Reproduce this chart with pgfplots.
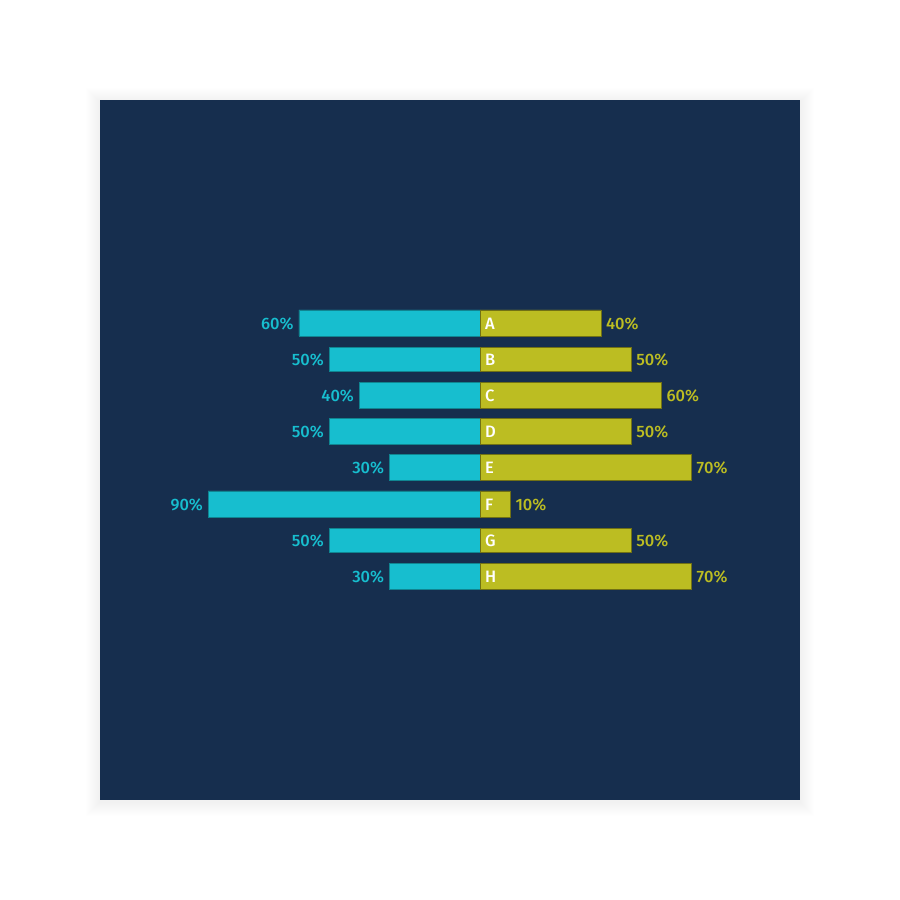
\documentclass[border=0pt]{standalone}
\usepackage{pgfplots}
\pgfplotsset{compat=1.18}
\usepackage{fontspec}
\setmainfont{Fira Sans}[UprightFont=* Medium, BoldFont=* SemiBold]
\definecolor{navy}{HTML}{162E4E}
\definecolor{cy}{HTML}{17BECF}
\definecolor{ol}{HTML}{BCBD22}
\begin{document}
\begin{tikzpicture}[x=1bp,y=1bp]
\path (0,0) rectangle (900,900);
\foreach \k in {1,...,14} \fill[black,opacity=0.0035] (100-\k,100-\k-2) rectangle (800+\k,800+\k-2);
\fill[navy] (100,100) rectangle (800,800);
\begin{axis}[at={(100bp,100bp)}, anchor=south west, scale only axis,
  width=700bp, height=700bp, hide axis,
  xmin=-125.83, xmax=105.96, ymin=-6.16, ymax=13.18, y dir=reverse, clip=false,
  every node near coord/.append style={font=\fontsize{16.5bp}{16.5bp}\selectfont, inner sep=0pt, yshift=-0.5bp}]
% left (cyan) bars, normal rows
\addplot[xbar, bar shift=0pt, bar width=26bp, fill=cy, draw=cy!70!black, line width=0.6bp,
  point meta=explicit symbolic, nodes near coords,
  nodes near coords style={anchor=east, xshift=-5bp, text=cy}]
  coordinates {(-60,0)[60\%] (-40,2)[40\%] (-50,3)[50\%] (-30,4)[30\%] (-90,5)[90\%] (-30,7)[30\%]};
% left (cyan) bars, thin rows
\addplot[xbar, bar shift=0pt, bar width=24bp, fill=cy, draw=cy!70!black, line width=0.6bp,
  point meta=explicit symbolic, nodes near coords,
  nodes near coords style={anchor=east, xshift=-5bp, text=cy}]
  coordinates {(-50,1)[50\%] (-50,6)[50\%]};
% right (olive) bars, normal rows
\addplot[xbar, bar shift=0pt, bar width=26bp, fill=ol, draw=ol!60!black, line width=0.6bp,
  point meta=explicit symbolic, nodes near coords,
  nodes near coords style={anchor=west, xshift=5bp, text=ol}]
  coordinates {(40,0)[40\%] (60,2)[60\%] (50,3)[50\%] (70,4)[70\%] (10,5)[10\%] (70,7)[70\%]};
% right (olive) bars, thin rows
\addplot[xbar, bar shift=0pt, bar width=24bp, fill=ol, draw=ol!60!black, line width=0.6bp,
  point meta=explicit symbolic, nodes near coords,
  nodes near coords style={anchor=west, xshift=5bp, text=ol}]
  coordinates {(50,1)[50\%] (50,6)[50\%]};
% category letters
\addplot[only marks, mark=none, point meta=explicit symbolic, nodes near coords,
  nodes near coords style={anchor=west, xshift=5bp, text=white}]
  coordinates {(0,0)[A] (0,1)[B] (0,2)[C] (0,3)[D] (0,4)[E] (0,5)[F] (0,6)[G] (0,7)[H]};
\end{axis}
\end{tikzpicture}
\end{document}
